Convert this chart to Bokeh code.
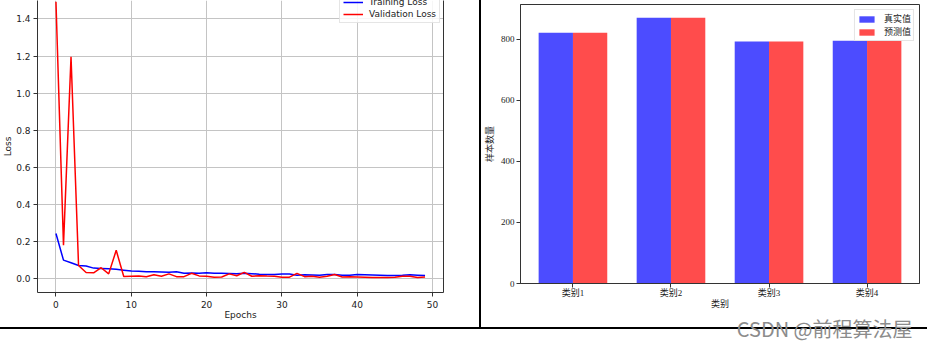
import numpy as np
from bokeh.plotting import figure
from bokeh.models import (Range1d, FixedTicker, LinearAxis, Legend, LegendItem,
                          Title, ColumnDataSource)
from bokeh.embed import file_html
from bokeh.resources import INLINE

# ---------------- data ----------------
epochs = list(range(50))
train_loss = [0.243, 0.099, 0.085, 0.070, 0.067, 0.056, 0.054, 0.052, 0.050, 0.045,
              0.040, 0.039, 0.037, 0.036, 0.035, 0.034, 0.036, 0.028, 0.030, 0.029,
              0.031, 0.029, 0.028, 0.027, 0.026, 0.028, 0.026, 0.023, 0.022, 0.022,
              0.024, 0.024, 0.018, 0.020, 0.019, 0.018, 0.022, 0.021, 0.018, 0.018,
              0.021, 0.020, 0.019, 0.018, 0.016, 0.016, 0.017, 0.020, 0.018, 0.016]
val_loss = [1.493, 0.180, 1.196, 0.070, 0.032, 0.031, 0.058, 0.025, 0.152, 0.011,
            0.012, 0.013, 0.010, 0.020, 0.012, 0.025, 0.010, 0.010, 0.028, 0.014,
            0.012, 0.007, 0.008, 0.025, 0.015, 0.033, 0.012, 0.015, 0.013, 0.012,
            0.007, 0.007, 0.028, 0.010, 0.012, 0.007, 0.012, 0.022, 0.008, 0.009,
            0.008, 0.007, 0.006, 0.006, 0.005, 0.007, 0.012, 0.012, 0.005, 0.008]
loss_x_ticks = [0, 10, 20, 30, 40, 50]
loss_y_ticks = [0.0, 0.2, 0.4, 0.6, 0.8, 1.0, 1.2, 1.4]
loss_y_labels = ["0.0", "0.2", "0.4", "0.6", "0.8", "1.0", "1.2", "1.4"]

categories = ["类别1", "类别2", "类别3", "类别4"]
true_counts = [821, 870, 792, 795]
pred_counts = [821, 870, 792, 795]
count_ticks = [0, 200, 400, 600, 800]

SANS = "DejaVu Sans"
SERIF_CJK = "'Liberation Serif', 'Noto Sans CJK SC'"
AX = "#333333"

LINE = "linear-gradient(#000000, #000000)"

# ---------------- left: loss curves ----------------
p1 = figure(width=481, height=346, output_backend="svg", toolbar_location=None,
            x_range=Range1d(-2.45, 51.45), y_range=Range1d(-0.0755, 1.4995),
            min_border_left=36, min_border_right=38, min_border_top=0,
            min_border_bottom=54)
p1.outline_line_color = None
p1.background_fill_color = "white"
p1.border_fill_alpha = 0
p1.styles = {
    "background-color": "white",
    "background-image": f"{LINE}, {LINE}",
    "background-size": "481px 2px, 2px 328px",
    "background-position": "0px 327px, 479px 0px",
    "background-repeat": "no-repeat",
}

r_tr = p1.line(epochs, train_loss, line_color="blue", line_width=1.5)
r_va = p1.line(epochs, val_loss, line_color="red", line_width=1.5)

p1.xaxis.ticker = FixedTicker(ticks=loss_x_ticks)
p1.yaxis.ticker = FixedTicker(ticks=loss_y_ticks)
p1.yaxis.major_label_overrides = {t: l for t, l in zip(loss_y_ticks, loss_y_labels)}
p1.xaxis.axis_label = "Epochs"
p1.yaxis.axis_label = "Loss"
for ax in (p1.xaxis, p1.yaxis):
    ax.axis_line_color = AX
    ax.major_tick_line_color = AX
    ax.minor_tick_line_color = None
    ax.major_tick_in = 0
    ax.major_tick_out = 4
    ax.major_label_text_font = SANS
    ax.major_label_text_font_size = "9px"
    ax.major_label_text_color = "#222222"
    ax.axis_label_text_font = SANS
    ax.axis_label_text_font_size = "9px"
    ax.axis_label_text_font_style = "normal"
    ax.axis_label_text_color = "#222222"
p1.xaxis.major_label_standoff = 4
p1.xaxis.axis_label_standoff = -1
p1.yaxis.major_label_standoff = 3
p1.yaxis.axis_label_standoff = 0

right_spine = LinearAxis(ticker=FixedTicker(ticks=[]), axis_line_color=AX,
                         major_tick_line_color=None, minor_tick_line_color=None,
                         major_label_text_font_size="0px")
p1.add_layout(right_spine, "right")

p1.xgrid.grid_line_color = "#c4c4c4"
p1.ygrid.grid_line_color = "#c4c4c4"
p1.xgrid.grid_line_width = 1
p1.ygrid.grid_line_width = 1

leg1 = Legend(items=[LegendItem(label="Training Loss", renderers=[r_tr]),
                     LegendItem(label="Validation Loss", renderers=[r_va])],
              location=(302, 269), label_text_font=SANS, label_text_font_size="9px",
              label_text_color="#222222", glyph_width=20, glyph_height=10,
              label_height=10, spacing=2, padding=3, margin=0, label_standoff=6,
              border_line_color="#cccccc", background_fill_alpha=0.85)
p1.add_layout(leg1)

# ---------------- right: bar chart ----------------
p2 = figure(width=446, height=346, output_backend="svg", toolbar_location=None,
            x_range=Range1d(-0.535, 3.535), y_range=Range1d(0, 913.5),
            min_border_left=38, min_border_right=8, min_border_top=4,
            min_border_bottom=63)
p2.outline_line_color = AX
p2.outline_line_width = 1
p2.background_fill_color = "white"
p2.border_fill_alpha = 0
p2.xgrid.grid_line_color = None
p2.ygrid.grid_line_color = None
p2.styles = {
    "position": "absolute",
    "left": "481px",
    "top": "0px",
    "background-color": "white",
    "background-image": LINE,
    "background-size": "446px 2px",
    "background-position": "0px 327px",
    "background-repeat": "no-repeat",
}

idx = np.arange(len(categories))
src = ColumnDataSource(dict(x_true=idx - 0.175, x_pred=idx + 0.175,
                            true=true_counts, pred=pred_counts))
r_true = p2.vbar(x="x_true", top="true", width=0.35, source=src,
                 fill_color="blue", fill_alpha=0.7, line_color=None)
r_pred = p2.vbar(x="x_pred", top="pred", width=0.35, source=src,
                 fill_color="red", fill_alpha=0.7, line_color=None)

p2.xaxis.ticker = FixedTicker(ticks=[int(i) for i in idx])
p2.xaxis.major_label_overrides = {int(i): c for i, c in zip(idx, categories)}
p2.yaxis.ticker = FixedTicker(ticks=count_ticks)
p2.xaxis.axis_label = "类别"
p2.yaxis.axis_label = "样本数量"
for ax in (p2.xaxis, p2.yaxis):
    ax.axis_line_color = AX
    ax.major_tick_line_color = AX
    ax.minor_tick_line_color = None
    ax.major_tick_in = 0
    ax.major_tick_out = 4
    ax.major_label_text_font = SERIF_CJK
    ax.major_label_text_font_size = "9px"
    ax.major_label_text_color = "#222222"
    ax.axis_label_text_font = SERIF_CJK
    ax.axis_label_text_font_size = "9px"
    ax.axis_label_text_font_style = "normal"
    ax.axis_label_text_color = "#222222"
p2.xaxis.major_label_standoff = 0
p2.xaxis.axis_label_standoff = -2
p2.yaxis.major_label_standoff = 2
p2.yaxis.axis_label_standoff = 3

leg2 = Legend(items=[LegendItem(label="真实值", renderers=[r_true]),
                     LegendItem(label="预测值", renderers=[r_pred])],
              location="top_right", label_text_font=SERIF_CJK,
              label_text_font_size="9px", label_text_color="#222222",
              glyph_width=19, glyph_height=8, label_height=10, spacing=0,
              padding=2, margin=5, label_standoff=8,
              border_line_color="#cccccc", background_fill_alpha=0.85)
p2.add_layout(leg2)

wm = Title(text="CSDN @前程算法屋", align="right", offset=7, standoff=0,
           text_font="Noto Sans CJK SC", text_font_size="20px",
           text_font_style="normal", text_color="#8c8c8c")
p2.add_layout(wm, "below")

open("out.html", "w").write(file_html((p1, p2), INLINE))
